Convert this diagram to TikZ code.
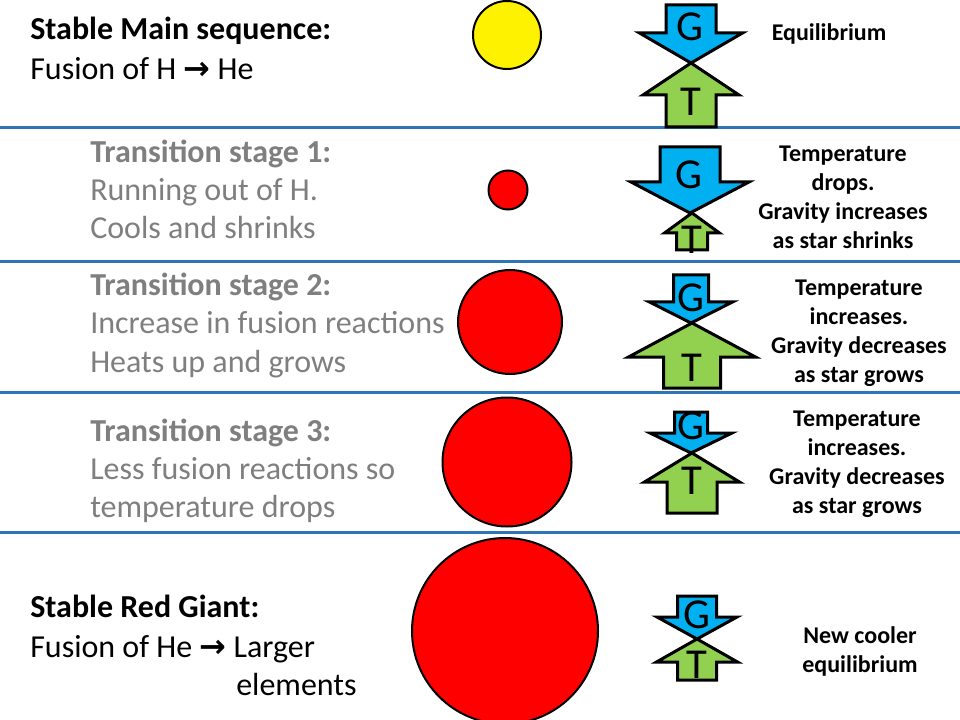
\documentclass[tikz,border=0pt]{standalone}
\usepackage{fontspec}
\setmainfont{Carlito}
\newfontfamily\arrowfont{DejaVu Sans}
\definecolor{linecol}{HTML}{2E75B6}
\definecolor{gblue}{HTML}{00B0F0}
\definecolor{tgreen}{HTML}{92D050}
\definecolor{greytext}{HTML}{7F7F7F}
\newcommand{\ra}{{\arrowfont\bfseries\fontsize{24}{29}\selectfont\symbol{"2192}}}
% #1 colour, #2 cx, #3 base (top or bottom), #4 shaft half width, #5 head line y, #6 head half width, #7 tip y
\newcommand{\gtarrow}[7]{%
  \draw[arrowline, fill=#1] (#2-#4,#3) -- (#2+#4,#3) -- (#2+#4,#5) -- (#2+#6,#5)
    -- (#2,#7) -- (#2-#6,#5) -- (#2-#4,#5) -- cycle;}
\tikzset{
  sep/.style={draw=linecol, line width=2.25pt},
  star/.style={draw=black, line width=1.5pt},
  arrowline/.style={draw=black, line width=2.25pt},
  letter/.style={inner sep=0pt, font=\fontsize{32}{38}\selectfont},
  lefttitle/.style={anchor=base west, inner sep=0pt, font=\fontsize{24}{29}\selectfont\bfseries},
  lefttext/.style={anchor=base west, inner sep=0pt, font=\fontsize{24}{29}\selectfont},
  greytitle/.style={lefttitle, text=greytext},
  greytext/.style={lefttext, text=greytext},
  note/.style={align=center, inner sep=0pt, font=\fontsize{18}{21.75}\selectfont\bfseries},
}
\begin{document}
\begin{tikzpicture}[x=0.75pt, y=-0.75pt]
\useasboundingbox[fill=white] (0,0) rectangle (960,720);
\clip (0,0) rectangle (960,720);
% separators
\draw[sep] (0,128) -- (960,128);
\draw[sep] (0,262) -- (960,262);
\draw[sep] (0,392) -- (960,392);
\draw[sep] (0,532) -- (960,532);
% stars
\draw[star, fill=yellow] (507,35) circle (34);
\draw[star, fill=red] (508,190) circle (19.5);
\draw[star, fill=red] (510,322) circle (52);
\draw[star, fill=red] (507,462) circle (64.5);
\draw[star, fill=red] (505,631) circle (93);
% arrows row 1
\gtarrow{gblue}{691}{5}{25}{33}{51.5}{63}
\gtarrow{tgreen}{691}{127}{25}{95}{48}{63}
% row 2
\gtarrow{gblue}{690}{147}{30}{182}{59}{213}
\gtarrow{tgreen}{692}{250}{15.5}{233}{27.5}{213}
% row 3
\gtarrow{gblue}{691}{275}{17.5}{302}{41.5}{323}
\gtarrow{tgreen}{692}{388}{28.5}{357}{63.5}{323}
% row 4
\gtarrow{gblue}{691}{412}{16.5}{433}{41}{453}
\gtarrow{tgreen}{692}{513}{25}{482}{47.5}{453}
% row 5
\gtarrow{gblue}{697}{596}{19.5}{617}{40}{639}
\gtarrow{tgreen}{697}{680}{19.5}{662}{40.5}{639}
% letters
\node[letter] (g1) at (690,27) {G};
\node[letter] (t1) at (691,102) {T};
\node[letter] (g2) at (689,175) {G};
\node[letter] (t2) at (692,240) {T};
\node[letter] (g3) at (691,298) {G};
\node[letter] (t3) at (692,368) {T};
\node[letter] (g4) at (691,426) {G};
\node[letter] (t4) at (692,481) {T};
\node[letter] (g5) at (697,615) {G};
\node[letter] (t5) at (697,665) {T};
% left texts
\node[lefttitle] (l1a) at (30,40) {Stable Main sequence:};
\node[lefttext] (l1b) at (30,80) {Fusion of H \ra\ He};
\node[greytitle] (l2a) at (90,163) {Transition stage 1:};
\node[greytext] (l2b) at (90,201) {Running out of H.};
\node[greytext] (l2c) at (90,239) {Cools and shrinks};
\node[greytitle] (l3a) at (90,296) {Transition stage 2:};
\node[greytext] (l3b) at (90,334) {Increase in fusion reactions};
\node[greytext] (l3c) at (90,372) {Heats up and grows};
\node[greytitle] (l4a) at (90,441) {Transition stage 3:};
\node[greytext] (l4b) at (90,479) {Less fusion reactions so};
\node[greytext] (l4c) at (90,517) {temperature drops};
\node[lefttitle] (l5a) at (30,617) {Stable Red Giant:};
\node[lefttext] (l5b) at (30,657) {Fusion of He \ra\ Larger};
\node[lefttext] (l5c) at (236,695) {elements};
% right notes
\node[note] (n1) at (829,34) {Equilibrium};
\node[note] (n2) at (843,197) {Temperature\\drops.\\Gravity increases\\as star shrinks};
\node[note] (n3) at (859,333) {Temperature\\increases.\\Gravity decreases\\as star grows};
\node[note] (n4) at (857,464) {Temperature\\increases.\\Gravity decreases\\as star grows};
\node[note] (n5) at (860,651) {New cooler\\equilibrium};
\end{tikzpicture}
\end{document}
